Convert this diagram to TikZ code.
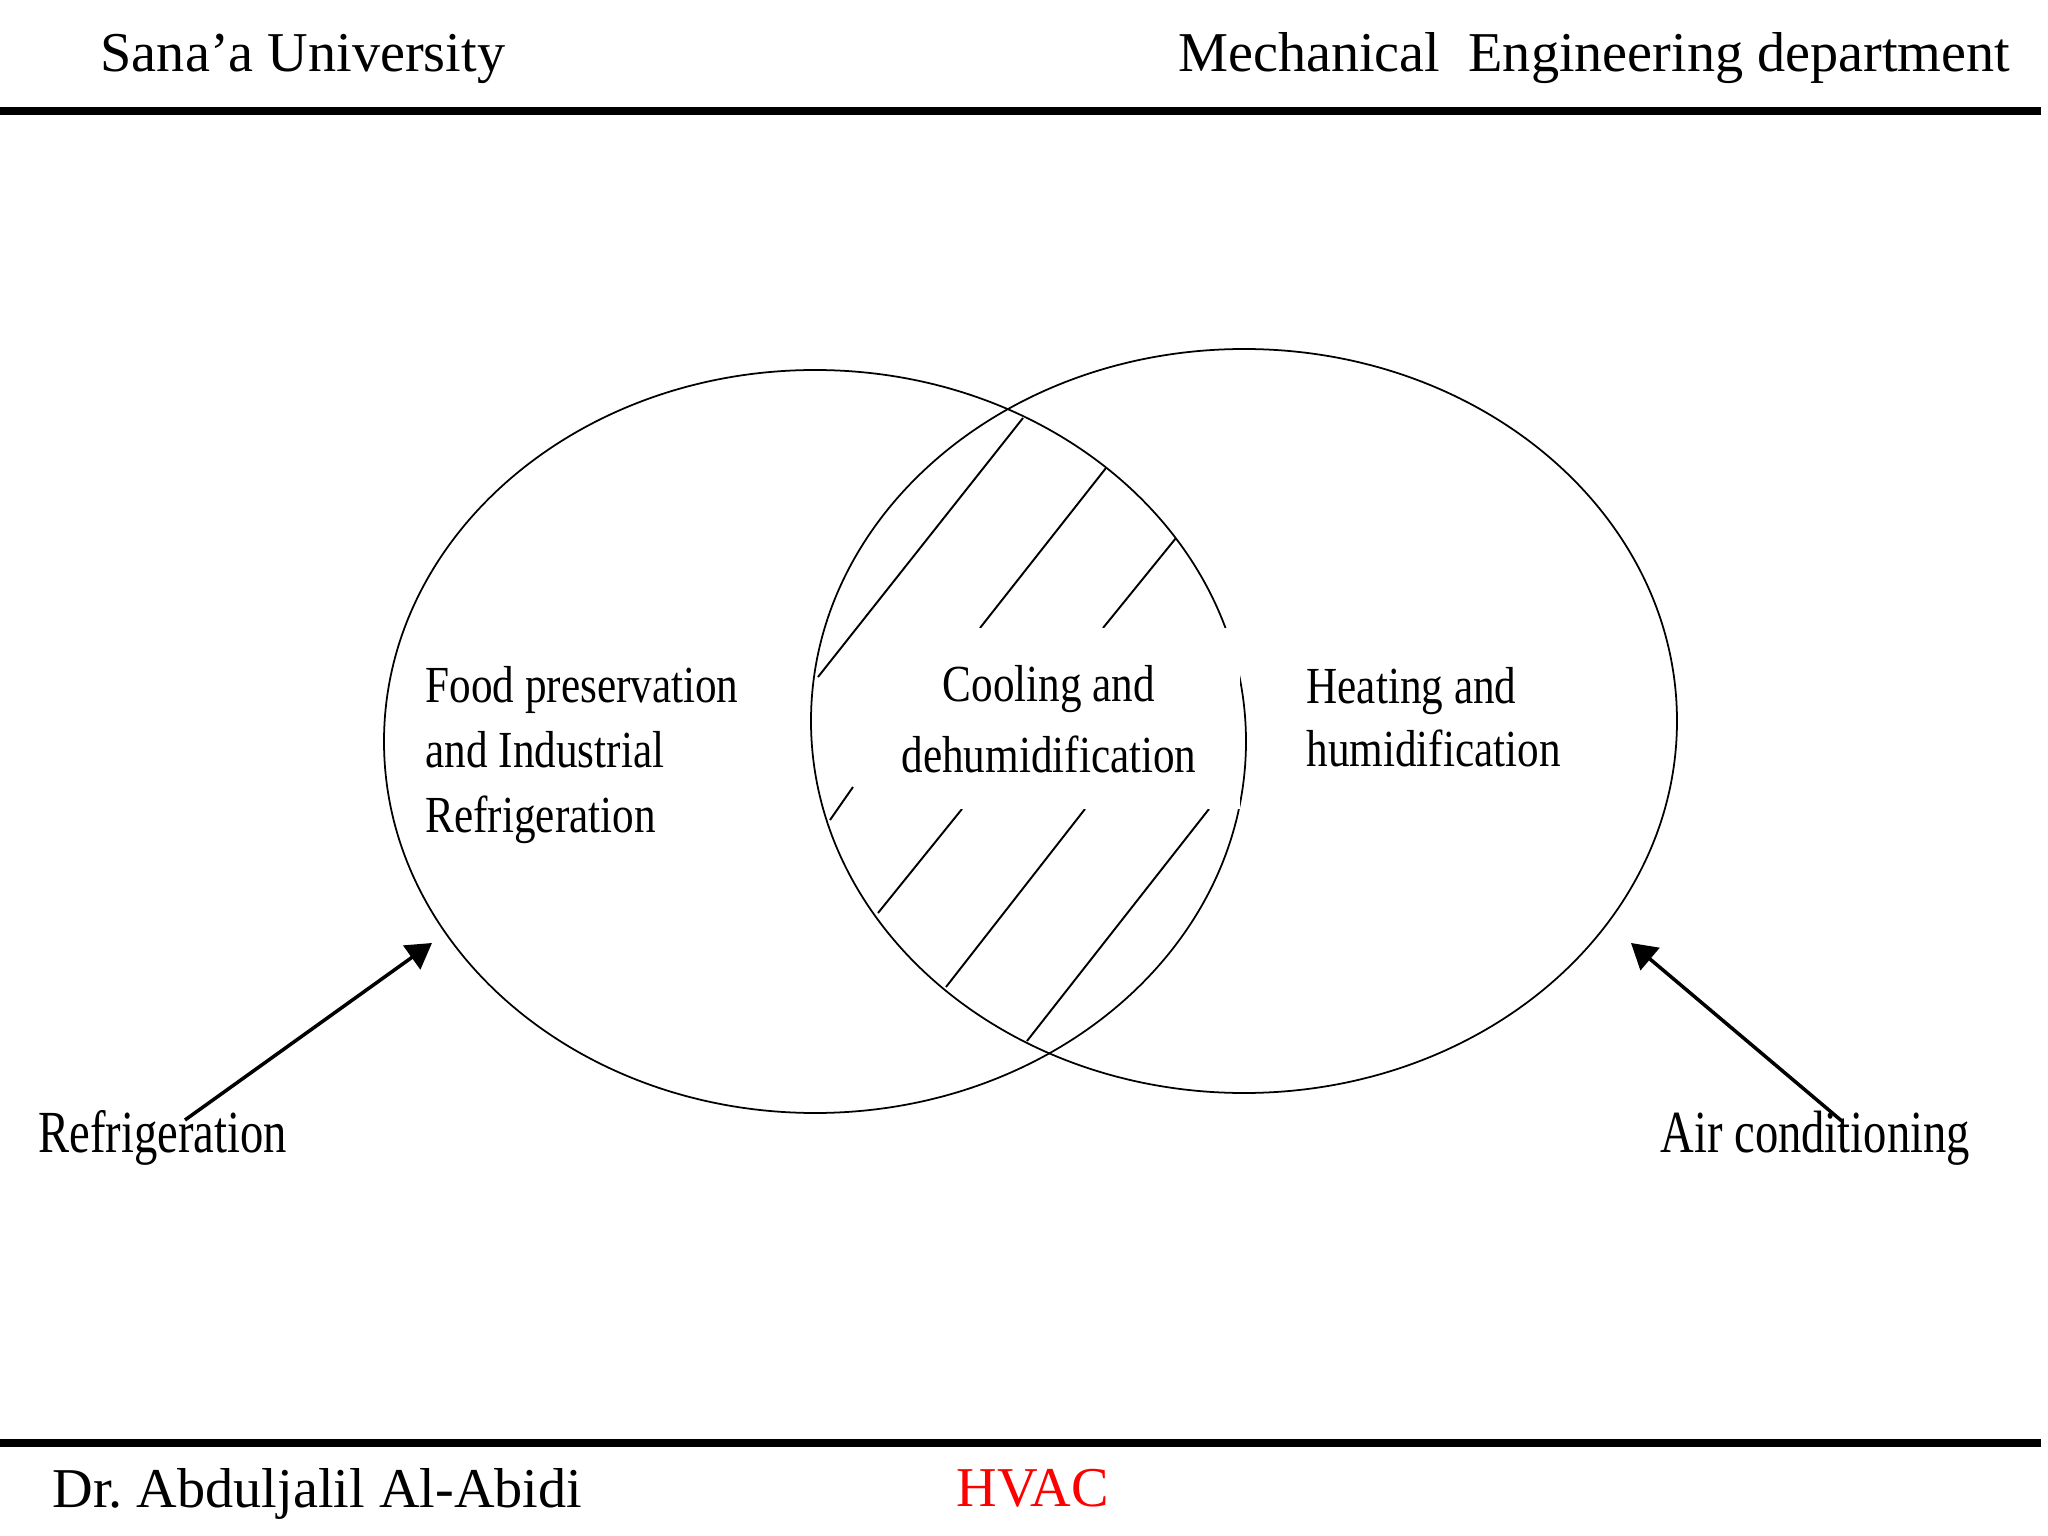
\documentclass[tikz,border=0pt]{standalone}
\usepackage{fontspec}
\setmainfont{Liberation Serif}
\usetikzlibrary{arrows.meta}

\begin{document}
\begin{tikzpicture}[
  rule/.style={line width=2pt},
  venn/.style={line width=0.5pt},
  hatch/.style={line width=0.55pt},
  pointer/.style={line width=1pt,-{Triangle[length=0.25cm,width=0.29cm]}},
  headtext/.style={inner sep=0pt,font=\fontsize{16}{19}\selectfont},
  vtext/.style={inner sep=0pt,xscale=0.83,align=left,font=\fontsize{14.8}{#1}\selectfont},
  ltext/.style={inner sep=0pt,xscale=0.78,font=\fontsize{17}{20}\selectfont}
]
%width=20.48cm
%height=15.36cm
\useasboundingbox (0,0) rectangle (20.48,-15.36);
% coordinates
\coordinate (topL)   at ( 0.00, -1.11);
\coordinate (topR)   at (20.41, -1.11);
\coordinate (botL)   at ( 0.00,-14.43);
\coordinate (botR)   at (20.41,-14.43);
\coordinate (h1a)    at (10.23, -4.18);
\coordinate (h1b)    at ( 8.18, -6.77);
\coordinate (h2a)    at (11.06, -4.68);
\coordinate (h2b)    at ( 9.80, -6.28);
\coordinate (h3a)    at (11.76, -5.38);
\coordinate (h3b)    at (11.03, -6.28);
\coordinate (h4a)    at ( 8.53, -7.87);
\coordinate (h4b)    at ( 8.30, -8.20);
\coordinate (h5a)    at ( 9.62, -8.09);
\coordinate (h5b)    at ( 8.78, -9.13);
\coordinate (h6a)    at (10.85, -8.09);
\coordinate (h6b)    at ( 9.46, -9.87);
\coordinate (h7a)    at (12.09, -8.09);
\coordinate (h7b)    at (10.27,-10.41);
\coordinate (reftail) at ( 1.85,-11.20);
\coordinate (refhead) at ( 4.32, -9.43);
\coordinate (actail)  at (18.43,-11.22);
\coordinate (achead)  at (16.31, -9.43);
% header and footer
\node[headtext,anchor=base west] (uni)  at ( 1.00, -0.72) {Sana’a University};
\node[headtext,anchor=base east] (dept) at (20.11, -0.72) {Mechanical\ \ Engineering department};
\draw[rule] (topL) -- (topR);
\draw[rule] (botL) -- (botR);
\node[headtext,anchor=base west] (author) at ( 0.52,-15.07) {Dr.\ Abduljalil Al-Abidi};
\node[headtext,anchor=base west,text=red] (course) at ( 9.56,-15.06) {HVAC};
% circles
\draw[venn] ( 8.15,-7.415) ellipse [x radius=4.31, y radius=3.715];
\draw[venn] (12.44,-7.21)  ellipse [x radius=4.33, y radius=3.72];
% hatching
\draw[hatch] (h1a) -- (h1b);
\draw[hatch] (h2a) -- (h2b);
\draw[hatch] (h3a) -- (h3b);
\draw[hatch] (h4a) -- (h4b);
\draw[hatch] (h5a) -- (h5b);
\draw[hatch] (h6a) -- (h6b);
\draw[hatch] (h7a) -- (h7b);
\fill[white] (8.70,-6.28) rectangle (12.40,-8.09);
% texts
\node[vtext=18.5,anchor=north west] (food) at ( 4.25,-6.655) {Food preservation\\and Industrial\\Refrigeration};
\node[vtext=20.2,anchor=north,align=center] (cool) at (10.49,-6.645) {Cooling and\\dehumidification};
\node[vtext=18.0,anchor=north west] (heat) at (13.06,-6.665) {Heating and\\humidification};
\node[ltext,anchor=base west] (refrig) at ( 0.38,-11.52) {Refrigeration};
\node[ltext,anchor=base west] (aircon) at (16.60,-11.52) {Air conditioning};
% arrows
\draw[pointer] (reftail) -- (refhead);
\draw[pointer] (actail) -- (achead);
\end{tikzpicture}
\end{document}
